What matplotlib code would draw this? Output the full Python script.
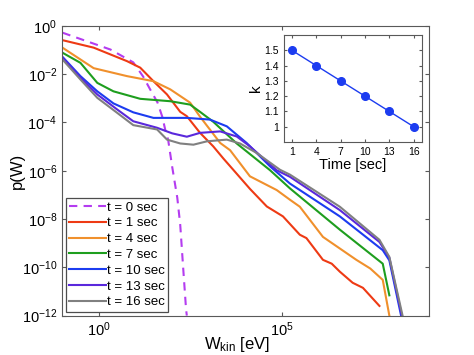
import numpy as np
import matplotlib
matplotlib.use("Agg")
import matplotlib.pyplot as plt

plt.rcParams['font.family'] = ['Liberation Sans', 'DejaVu Sans']
plt.rcParams['mathtext.fontset'] = 'custom'
plt.rcParams['mathtext.rm'] = 'Liberation Sans'
plt.rcParams['mathtext.it'] = 'Liberation Sans:italic'

# curves, as log10(W) and log10(p)
t0_lx = [-0.99, 0.32, 0.94, 1.21, 1.40, 1.60, 1.73, 1.81, 1.89, 2.00, 2.14, 2.22, 2.30, 2.38, 2.40]
t0_ly = [-0.28, -0.98, -1.51, -2.10, -2.63, -3.17, -3.76, -4.29, -4.71, -5.83, -7.12, -8.24, -10.02, -11.76, -12.0]

t1_lx = [-0.99, -0.14, 0.77, 1.13, 1.49, 1.86, 2.22, 2.40, 2.76, 3.12, 3.40, 3.66, 4.12, 4.58, 5.02, 5.48,
         5.66, 6.11, 6.35, 6.57, 6.92, 7.20, 7.65]
t1_ly = [-0.59, -0.90, -1.46, -1.73, -2.29, -2.84, -3.56, -3.74, -4.43, -4.99, -5.50, -5.95, -6.75, -7.48, -7.89, -8.65,
         -8.79, -9.69, -9.85, -10.18, -10.64, -10.85, -11.60]

t4_lx = [-0.99, -0.50, -0.14, 0.77, 1.49, 1.95, 2.49, 2.76, 3.31, 3.58, 4.12, 4.85, 5.21, 5.48, 6.11, 7.02, 7.40, 7.74, 7.92]
t4_ly = [-0.90, -1.39, -1.75, -2.08, -2.29, -2.63, -3.18, -3.76, -4.85, -5.15, -6.23, -6.80, -7.20, -7.49, -8.74, -9.69, -10.05, -10.52, -12.0]

t7_lx = [-0.99, -0.50, -0.04, 0.40, 1.13, 1.95, 2.49, 2.76, 3.12, 3.76, 4.67, 5.21, 6.57, 7.74, 7.92]
t7_ly = [-1.11, -1.53, -2.36, -2.71, -3.02, -3.12, -3.26, -3.56, -3.97, -4.87, -5.98, -6.73, -8.44, -9.85, -11.16]

t10_lx = [-0.99, -0.50, -0.04, 0.40, 0.94, 1.49, 2.40, 3.03, 3.49, 4.03, 4.67, 5.21, 6.57, 7.74, 7.92, 8.24]
t10_ly = [-1.28, -2.08, -2.71, -3.21, -3.58, -3.81, -3.81, -3.88, -4.16, -4.85, -5.82, -6.53, -7.89, -9.29, -9.71, -12.0]

t13_lx = [-0.99, -0.50, -0.04, 0.50, 0.94, 1.59, 2.00, 2.40, 2.76, 3.31, 3.76, 4.12, 4.85, 5.21, 6.57, 7.65, 7.92, 8.26]
t13_ly = [-1.32, -2.15, -2.84, -3.46, -3.95, -4.22, -4.45, -4.59, -4.43, -4.37, -4.58, -4.99, -5.98, -6.25, -7.63, -8.95, -9.60, -12.0]

t16_lx = [-0.99, -0.50, -0.04, 0.50, 0.94, 1.59, 1.86, 2.22, 2.58, 2.95, 3.49, 3.85, 4.30, 4.94, 5.21, 6.57, 7.65, 7.92, 8.28]
t16_ly = [-1.39, -2.22, -2.98, -3.60, -4.11, -4.29, -4.71, -4.87, -4.92, -4.78, -4.71, -4.87, -5.26, -5.96, -6.16, -7.49, -8.86, -9.57, -12.0]

labels = ['t = 0 sec', 't = 1 sec', 't = 4 sec', 't = 7 sec', 't = 10 sec', 't = 13 sec', 't = 16 sec']
colors = ['#b43cf0', '#ee3a14', '#f0902c', '#1e9e1e', '#1c3cf0', '#5a28dc', '#808080']

# inset data
time_sec = [1, 4, 7, 10, 13, 16]
k_vals = [1.5, 1.4, 1.3, 1.2, 1.1, 1.0]

fig = plt.figure(figsize=(4.74, 3.55), dpi=100)
ax = fig.add_axes([0.131, 0.111, 0.774, 0.816])

curves = [(t0_lx, t0_ly), (t1_lx, t1_ly), (t4_lx, t4_ly), (t7_lx, t7_ly),
          (t10_lx, t10_ly), (t13_lx, t13_ly), (t16_lx, t16_ly)]
for i, (lx, ly) in enumerate(curves):
    w = 10.0 ** np.array(lx)
    p = 10.0 ** np.array(ly)
    if i == 0:
        ax.plot(w, p, '--', color=colors[i], lw=1.5, label=labels[i], dashes=(4, 3))
    else:
        ax.plot(w, p, '-', color=colors[i], lw=1.5, label=labels[i])

ax.set_xscale('log')
ax.set_yscale('log')
ax.set_xlim(1e-1, 1e9)
ax.set_ylim(1e-12, 1e0)
ax.set_xticks([1e0, 1e5])
ax.set_yticks([10.0 ** e for e in range(-12, 1, 2)])
ax.minorticks_off()
ax.tick_params(direction='in', top=True, right=True, labelsize=10.5, length=3, color='0.35')
for s in ax.spines.values():
    s.set_color('0.35')
ax.set_ylabel('p(W)', fontsize=12)
ax.yaxis.set_label_coords(-0.10, 0.5)
ax.set_xlabel(r'W$_{\rm kin}$ [eV]', fontsize=12)
ax.xaxis.set_label_coords(0.477, -0.068)

leg = ax.legend(loc='lower left', fontsize=9.5, handlelength=2.8, handletextpad=0.05,
                labelspacing=0.27, borderpad=0.25, borderaxespad=0.3, fancybox=False,
                framealpha=1, edgecolor='0.3')
leg.get_frame().set_linewidth(0.9)

ins = fig.add_axes([0.599, 0.6, 0.291, 0.301])
ins.plot(time_sec, k_vals, '-o', color='#1c3cf0', lw=1, ms=5.5)
ins.set_xlim(0, 17)
ins.set_ylim(0.9, 1.6)
ins.set_xticks(time_sec)
ins.set_yticks([1.0, 1.1, 1.2, 1.3, 1.4, 1.5])
ins.set_yticklabels(['1', '1.1', '1.2', '1.3', '1.4', '1.5'])
ins.tick_params(direction='in', top=True, right=True, labelsize=7.5, length=2.5, color='0.35')
for s in ins.spines.values():
    s.set_color('0.35')
ins.set_xlabel('Time [sec]', fontsize=10.5, labelpad=1)
ins.set_ylabel('k', fontsize=11, labelpad=1)

fig.savefig('out.png', dpi=100)
